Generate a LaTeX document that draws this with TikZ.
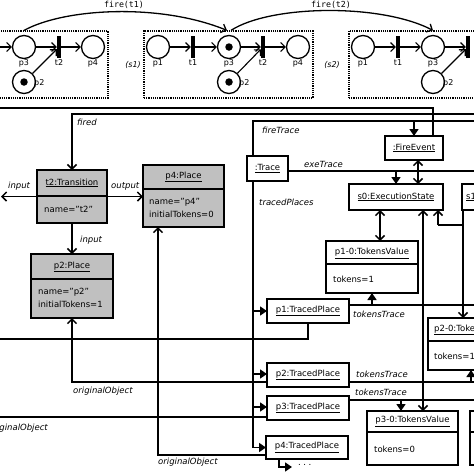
\documentclass[tikz,border=0pt]{standalone}
\usepackage{fontspec}
\setmainfont{DejaVu Sans}
\setmonofont{DejaVu Sans Mono}
\usetikzlibrary{arrows.meta}
\definecolor{boxgray}{RGB}{192,192,192}
\begin{document}
\begin{tikzpicture}[x=1pt,y=-1pt,
  font=\fontsize{8.5}{10}\selectfont,
  bx/.style={draw, line width=1.5pt, inner sep=0pt, outer sep=0pt, fill=white},
  gbx/.style={bx, fill=boxgray},
  hd/.style={inner sep=0pt},
  attr/.style={inner sep=0pt, anchor=west},
  lab/.style={inner sep=0pt, anchor=west, font=\fontsize{8.5}{10}\selectfont\itshape},
  conn/.style={line width=1.5pt},
  oarr/.style={conn, -{Straight Barb[length=4.5pt,width=9pt]}},
  boarr/.style={conn, {Straight Barb[length=4.5pt,width=9pt]}-{Straight Barb[length=4.5pt,width=9pt]}},
  farr/.style={conn, -{Triangle[length=7pt,width=9pt]}},
  pl/.style={circle, draw, line width=1.3pt, minimum size=23pt, inner sep=0pt},
  trn/.style={fill=black, minimum width=4pt, minimum height=22pt, inner sep=0pt},
  tk/.style={circle, fill=black, minimum size=7.5pt, inner sep=0pt},
  parc/.style={line width=1.1pt, -{Straight Barb[length=4.5pt,width=9pt]}},
  nb/.style={draw, densely dotted, line width=1.2pt, inner sep=0pt},
  plab/.style={inner sep=0pt, font=\fontsize{8}{9}\selectfont},
  flab/.style={inner sep=0pt, font=\fontsize{8.3}{9}\selectfont\ttfamily}
]
\useasboundingbox (0,0) rectangle (474,474);
\clip (0,0) rectangle (474,474);

% ---------------- Petri nets ----------------
\node[nb, minimum width=115pt, minimum height=67pt] (netA) at (50.5,64.5) {};
\node[nb, minimum width=169pt, minimum height=67pt] (netB) at (228.5,64.5) {};
\node[nb, minimum width=160pt, minimum height=67pt] (netC) at (429,64.5) {};

% net A (s0)
\node[pl] (aP3) at (24,47) {};
\node[trn] (aT2) at (59,47) {};
\node[pl] (aP4) at (93,47) {};
\node[pl] (aP2) at (24,82) {};
\node[tk] (aP2t) at (24,82) {};
\coordinate (aIn) at (-6,47);
\draw[parc] (aIn) -- (aP3);
\draw[parc] (aP3) -- (aT2);
\draw[parc] (aT2) -- (aP4);
\draw[parc] (aP2) -- (aT2);
\node[plab] (aP3l) at (24,63) {p3};
\node[plab] (aT2l) at (59,63) {t2};
\node[plab] (aP4l) at (93,63) {p4};
\node[plab, anchor=west] (aP2l) at (34,83) {p2};

% net B (s1)
\node[pl] (bP1) at (158,47) {};
\node[trn] (bT1) at (193,47) {};
\node[pl] (bP3) at (229,47) {};
\node[tk] (bP3t) at (229,47) {};
\node[trn] (bT2) at (263,47) {};
\node[pl] (bP4) at (298,47) {};
\node[pl] (bP2) at (229,82) {};
\node[tk] (bP2t) at (229,82) {};
\draw[parc] (bP1) -- (bT1);
\draw[parc] (bT1) -- (bP3);
\draw[parc] (bP3) -- (bT2);
\draw[parc] (bT2) -- (bP4);
\draw[parc] (bP2) -- (bT2);
\node[plab] (bP1l) at (158,63) {p1};
\node[plab] (bT1l) at (193,63) {t1};
\node[plab] (bP3l) at (229,63) {p3};
\node[plab] (bT2l) at (263,63) {t2};
\node[plab] (bP4l) at (298,63) {p4};
\node[plab, anchor=west] (bP2l) at (239,83) {p2};

% net C (s2)
\node[pl] (cP1) at (363,47) {};
\node[trn] (cT1) at (398,47) {};
\node[pl] (cP3) at (433,47) {};
\node[trn] (cT2) at (468,47) {};
\node[pl] (cP2) at (433,82) {};
\draw[parc] (cP1) -- (cT1);
\draw[parc] (cT1) -- (cP3);
\draw[parc] (cP3) -- (cT2);
\draw[parc] (cP2) -- (cT2);
\node[plab] (cP1l) at (363,63) {p1};
\node[plab] (cT1l) at (398,63) {t1};
\node[plab] (cP3l) at (433,63) {p3};
\node[plab, anchor=west] (cP2l) at (443,83) {p2};

\node[plab, font=\fontsize{8}{9}\selectfont\itshape] (s1lab) at (133,65) {(s1)};
\node[plab, font=\fontsize{8}{9}\selectfont\itshape] (s2lab) at (332,65) {(s2)};

\draw[parc, line width=1.3pt] (netA.north -| aP3) .. controls (65,8) and (160,3) .. ([xshift=-2pt]netB.north -| bP3);
\draw[parc, line width=1.3pt] ([xshift=2pt]netB.north -| bP3) .. controls (270,5) and (380,3) .. (netC.north -| cP3);
\node[flab] (fire1) at (124,5) {fire(t1)};
\node[flab] (fire2) at (331,5) {fire(t2)};

% ---------------- object diagram boxes ----------------
\node[gbx, minimum width=70pt, minimum height=53pt] (t2t) at (72,196.5) {};
\draw[conn] (t2t.west |- 0,196) -- (t2t.east |- 0,196);
\node[hd] (t2h) at (72,183) {\underline{t2:Transition}};
\node[attr] (t2a) at (44,209) {name="t2"};

\node[gbx, minimum width=81pt, minimum height=62pt] (p4p) at (183.5,196) {};
\draw[conn] (p4p.west |- 0,189) -- (p4p.east |- 0,189);
\node[hd] (p4h) at (183.5,177) {\underline{p4:Place}};
\node[attr] (p4a) at (149,202) {name="p4"};
\node[attr] (p4b) at (149,214) {initialTokens=0};

\node[gbx, minimum width=82pt, minimum height=64pt] (p2p) at (72,286) {};
\draw[conn] (p2p.west |- 0,279) -- (p2p.east |- 0,279);
\node[hd] (p2h) at (72,267) {\underline{p2:Place}};
\node[attr] (p2a) at (38,292) {name="p2"};
\node[attr] (p2b) at (38,304) {initialTokens=1};

\node[bx, minimum width=58pt, minimum height=24pt] (fe) at (414,148) {};
\node[hd] (feh) at (414,148) {\underline{:FireEvent}};

\node[bx, minimum width=41pt, minimum height=25pt] (trace) at (267.5,168.5) {};
\node[hd] (trh) at (267.5,168.5) {\underline{:Trace}};

\node[bx, minimum width=94pt, minimum height=26pt] (s0) at (396,197) {};
\node[hd] (s0h) at (396,197) {\underline{s0:ExecutionState}};

\node[bx, minimum width=94pt, minimum height=26pt] (s1) at (509,197) {};
\node[attr] (s1h) at (466,197) {\underline{s1:ExecutionState}};

\node[bx, minimum width=92pt, minimum height=52pt] (tv1) at (372,267) {};
\draw[conn] (tv1.west |- 0,264) -- (tv1.east |- 0,264);
\node[hd] (tv1h) at (372,253.5) {\underline{p1-0:TokensValue}};
\node[attr] (tv1a) at (333,279) {tokens=1};

\node[bx, minimum width=86pt, minimum height=52pt] (tv2) at (471,344) {};
\draw[conn] (tv2.west |- 0,341) -- (tv2.east |- 0,341);
\node[attr] (tv2h) at (434,330) {\underline{p2-0:TokensValue}};
\node[attr] (tv2a) at (434,356) {tokens=1};

\node[bx, minimum width=91pt, minimum height=54pt] (tv3) at (412.5,438) {};
\draw[conn] (tv3.west |- 0,432) -- (tv3.east |- 0,432);
\node[hd] (tv3h) at (412.5,421.5) {\underline{p3-0:TokensValue}};
\node[attr] (tv3a) at (374,449) {tokens=0};

\node[bx, minimum width=90pt, minimum height=54pt] (tv4) at (515,438) {};
\draw[conn] (tv4.west |- 0,432) -- (tv4.east |- 0,432);

\node[bx, minimum width=82pt, minimum height=24pt] (tp1) at (308,311) {};
\node[hd] (tp1h) at (308,311) {\underline{p1:TracedPlace}};
\node[bx, minimum width=82pt, minimum height=24pt] (tp2) at (308,375) {};
\node[hd] (tp2h) at (308,375) {\underline{p2:TracedPlace}};
\node[bx, minimum width=82pt, minimum height=24pt] (tp3) at (308,408) {};
\node[hd] (tp3h) at (308,408) {\underline{p3:TracedPlace}};
\node[bx, minimum width=82pt, minimum height=23pt] (tp4) at (307,447.5) {};
\node[hd] (tp4h) at (307,447.5) {\underline{p4:TracedPlace}};

% ---------------- connectors ----------------
% top long line to FireEvent
\coordinate (topL) at (-5,108);
\coordinate (topJ) at (433,108);
\draw[conn] (topL) -- (topJ) -- (topJ |- fe.north);

% fired
\coordinate (fR) at (480,114);
\draw[oarr] (fR) -| (t2t.north);
\node[lab] (firedl) at (77,122) {fired};

% fireTrace
\coordinate (tA) at (253,121);
\coordinate (ftR) at (480,121);
\draw[conn] (trace.north -| tA) -- (tA) -- (ftR);
\draw[farr] (fe.north |- tA) -- (fe.north);
\node[lab] (ftl) at (262,130) {fireTrace};

% exeTrace
\coordinate (etR) at (480,171);
\draw[conn] (trace.east |- etR) -- (etR);
\draw[farr] (s0.north |- etR) -- (s0.north);
\node[lab] (etl) at (304,164) {exeTrace};

% FireEvent <-> s0
\coordinate (feX) at (418,0);
\draw[boarr] (fe.south -| feX) -- (s0.north -| feX);

% s0 <-> token values
\coordinate (sA) at (380,0);
\draw[boarr] (s0.south -| sA) -- (tv1.north -| sA);
\coordinate (sB) at (423,0);
\draw[boarr] (s0.south -| sB) -- (tv3.north -| sB);
\coordinate (jA) at (438,225);
\coordinate (jB) at (463,225);
\draw[oarr] (jA) -- (s0.south -| jA);
\draw[conn] (jA) -- (jB);
\draw[oarr] (s1.south -| jB) -- (tv2.north -| jB);

% tracedPlaces
\coordinate (tB) at (253,0);
\draw[farr] (trace.south -| tB) |- (tp4.west);
\draw[farr] (tp1.west -| tB) -- (tp1.west);
\draw[farr] ([yshift=1pt]tp2.west -| tB) -- ([yshift=1pt]tp2.west);
\draw[farr] ([yshift=1pt]tp3.west -| tB) -- ([yshift=1pt]tp3.west);
\node[lab] (tpl) at (259,202) {tracedPlaces};

% tokensTrace
\coordinate (k1) at (480,305);
\draw[conn] (tp1.east |- k1) -- (k1);
\draw[farr] (tv1.south |- k1) -- (tv1.south);
\node[lab] (k1l) at (353,314) {tokensTrace};
\coordinate (k2) at (480,382);
\draw[conn] (tp2.east |- k2) -- (k2);
\draw[farr] (tv2.south |- k2) -- (tv2.south);
\node[lab] (k2l) at (356,374) {tokensTrace};
\coordinate (k3) at (480,400);
\coordinate (k3x) at (401,400);
\draw[conn] (tp3.east |- k3) -- (k3);
\draw[farr] (k3x) -- (k3x |- tv3.north);
\node[lab] (k3l) at (355,392) {tokensTrace};

% originalObject
\coordinate (o1) at (-5,339);
\draw[conn] (tp1.south) |- (o1);
\coordinate (o2) at (72,382);
\draw[oarr] (tp2.west |- o2) -| (p2p.south);
\node[lab] (o2l) at (73,391) {originalObject};
\coordinate (o3) at (-5,417);
\draw[conn] (tp3.west |- o3) -- (o3);
\node[lab, anchor=east] (o3l) at (48,428) {originalObject};
\coordinate (o4) at (158,455);
\draw[oarr] (tp4.west |- o4) -- (o4) -- (o4 |- p4p.south);
\node[lab] (o4l) at (158,462) {originalObject};

% t2 links
\coordinate (inL) at (1,196.5);
\draw[oarr] (t2t.west) -- (inL);
\node[lab] (in1) at (8,186) {input};
\draw[oarr] (t2t.east) -- (t2t.east -| p4p.west);
\node[lab] (out1) at (111,186) {output};
\draw[oarr] (t2t.south) -- (p2p.north);
\node[lab] (in2) at (80,240) {input};

% continuation
\coordinate (dA) at (279,467);
\coordinate (dB) at (292,467);
\draw[farr] (tp4.south -| dA) |- (dB);
\node[inner sep=0pt, anchor=west] (dots) at (298,465) {.\hspace{2.5pt}.\hspace{2.5pt}.};
\end{tikzpicture}
\end{document}
